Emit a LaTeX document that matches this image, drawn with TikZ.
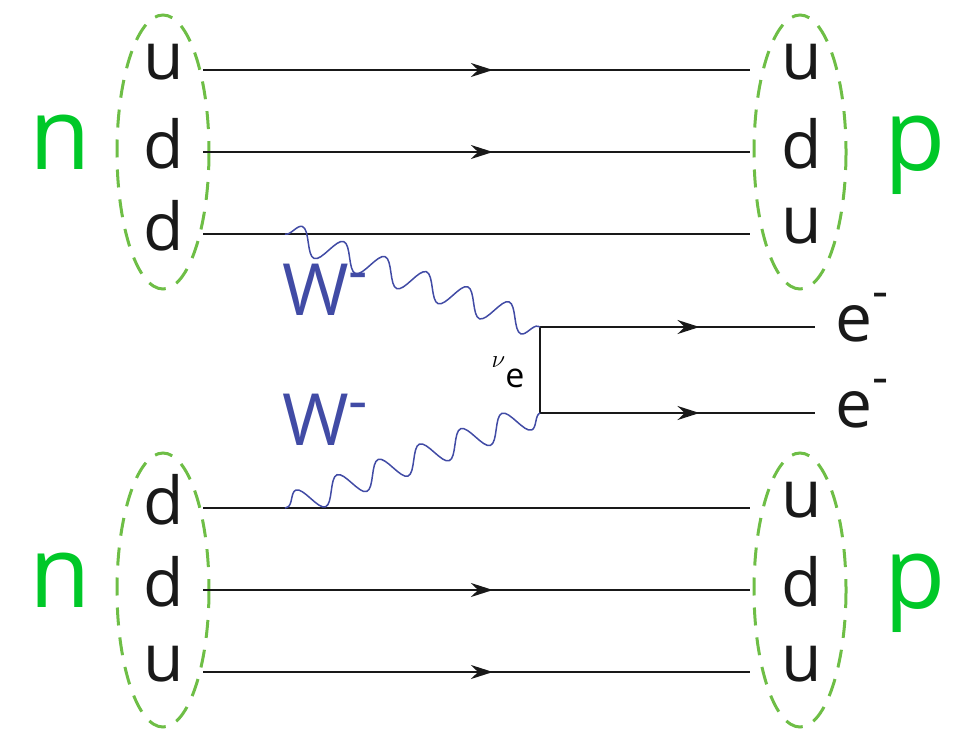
\documentclass[tikz,border=0pt]{standalone}
\usepackage{fontspec}
\setmainfont{Open Sans}
\usetikzlibrary{decorations.pathmorphing,decorations.markings,arrows.meta}
\definecolor{hgreen}{RGB}{0,200,40}
\definecolor{egreen}{RGB}{110,190,70}
\definecolor{wblue}{RGB}{65,75,165}
\tikzset{
 quark/.style={font=\fontsize{66}{66}\selectfont, text=black!90, inner sep=0pt},
 hadron/.style={font=\fontsize{100}{100}\selectfont, text=hgreen, inner sep=0pt},
 wlab/.style={font=\fontsize{72}{72}\selectfont, text=wblue, inner sep=0pt},
 fline/.style={line width=1.8pt, black!90},
 farrow/.style={fline, postaction={decorate}, decoration={markings, mark=at position #1 with {\arrow{Stealth[length=22pt,width=14pt]}}}},
 bag/.style={draw=egreen, dashed, dash pattern=on 18pt off 12pt, line width=3pt},
 wline/.style={wblue, line width=1.5pt, decorate, decoration={snake, amplitude=13pt, segment length=44pt}},
}
\begin{document}
\begin{tikzpicture}[x=1pt,y=-1pt]
\useasboundingbox (0,0) rectangle (960,740);
% ellipses
\draw[bag] (163,152) ellipse [x radius=46, y radius=137];
\draw[bag] (800,152) ellipse [x radius=46, y radius=137];
\draw[bag] (163,590) ellipse [x radius=46, y radius=137];
\draw[bag] (800,590) ellipse [x radius=46, y radius=137];
% coordinates
\foreach \n/\y in {1/70,2/152,3/234,4/508,5/590,6/672}{
  \coordinate (L\n) at (203,\y);
  \coordinate (R\n) at (750,\y);
}
\coordinate (v1) at (540,327); \coordinate (v2) at (540,413);
\coordinate (e1) at (815,327); \coordinate (e2) at (815,413);
\coordinate (w1) at (285,234); \coordinate (w2) at (285,508);
% quark lines
\draw[farrow=0.53] (L1) -- (R1);
\draw[farrow=0.53] (L2) -- (R2);
\draw[fline] (L3) -- (R3);
\draw[fline] (L4) -- (R4);
\draw[farrow=0.53] (L5) -- (R5);
\draw[farrow=0.53] (L6) -- (R6);
\draw[farrow=0.58] (v1) -- (e1);
\draw[farrow=0.58] (v2) -- (e2);
\draw[fline] (v1) -- (v2);
% W lines
\draw[wline] (w1) -- (v1);
\draw[wline] (v2) -- (w2);
% labels
\foreach \n/\y/\t in {a/70/u,b/152/d,c/234/d,d/508/d,e/590/d,f/672/u}{
  \node[quark] (ql\n) at (164,\y-8) {\t};
}
\foreach \n/\y/\t in {a/70/u,b/152/d,c/234/u,d/508/u,e/590/d,f/672/u}{
  \node[quark] (qr\n) at (802,\y-8) {\t};
}
\node[hadron] (n1) at (60,142) {n};
\node[hadron] (n2) at (60,580) {n};
\node[hadron] (p1) at (915,155) {p};
\node[hadron] (p2) at (915,593) {p};
\node[wlab] (W1) at (325,290) {W\raisebox{0.33em}{\fontsize{60}{60}\selectfont -}};
\node[wlab] (W2) at (325,420) {W\raisebox{0.33em}{\fontsize{60}{60}\selectfont -}};
\node[quark] (eo1) at (862,318) {e\raisebox{0.5em}{\fontsize{50}{50}\selectfont -}};
\node[quark] (eo2) at (862,404) {e\raisebox{0.5em}{\fontsize{50}{50}\selectfont -}};
\node[inner sep=0pt] (nu) at (508,372) {\fontsize{44}{44}\selectfont$\nu$\raisebox{-0.45em}{\fontsize{34}{34}\selectfont e}};
\end{tikzpicture}
\end{document}
